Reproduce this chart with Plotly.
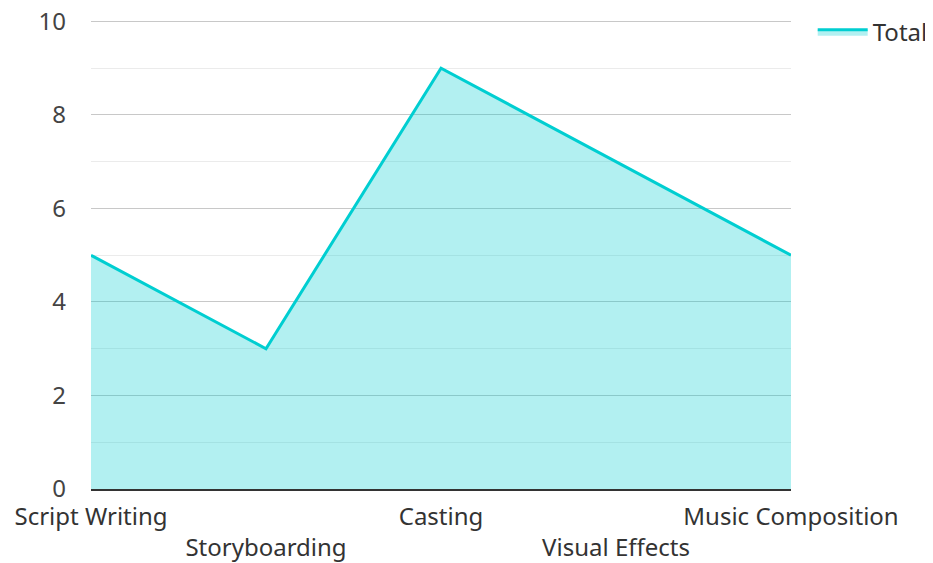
import plotly.graph_objects as go

categories = ["Script Writing", "Storyboarding", "Casting", "Visual Effects", "Music Composition"]
values = [5, 3, 9, 7, 5]
series_name = "Total"
y_ticks = [0, 2, 4, 6, 8, 10]

ticktext = [c if i % 2 == 0 else "<br>" + c for i, c in enumerate(categories)]

fig = go.Figure()
fig.add_trace(go.Scatter(
    x=categories, y=values, name=series_name, mode="lines",
    line=dict(color="#00CED1", width=3),
    fill="tozeroy", fillcolor="rgba(0,206,209,0.3)",
))

fig.update_layout(
    width=933, height=563,
    margin=dict(l=83, r=150, t=12, b=82, autoexpand=False),
    paper_bgcolor="white", plot_bgcolor="white",
    font=dict(family="Noto Sans", size=24, color="#333333"),
    showlegend=True,
    legend=dict(x=1.031, y=1.022, xanchor="left", yanchor="top", font=dict(size=24),
                itemwidth=50),
)
fig.update_xaxes(
    type="category", range=[0, len(categories) - 1],
    tickvals=categories, ticktext=ticktext, automargin=False, tickangle=0,
    showgrid=False, showline=True, linecolor="#333333", linewidth=2,
    ticks="", ticklabelstandoff=5, ticklabeloverflow="allow",
    tickfont=dict(size=24, color="#333333"),
)
fig.update_yaxes(
    range=[0, 10.03], tickvals=y_ticks, showline=False, zeroline=False,
    automargin=False, ticklabeloverflow="allow",
    gridcolor="#c8c8c8", gridwidth=1,
    minor=dict(dtick=1, showgrid=True, gridcolor="#ebebeb", gridwidth=1),
    ticklabelstandoff=24, tickfont=dict(size=24, color="#444444"),
    layer="above traces",
)
fig.write_html("out.html")
